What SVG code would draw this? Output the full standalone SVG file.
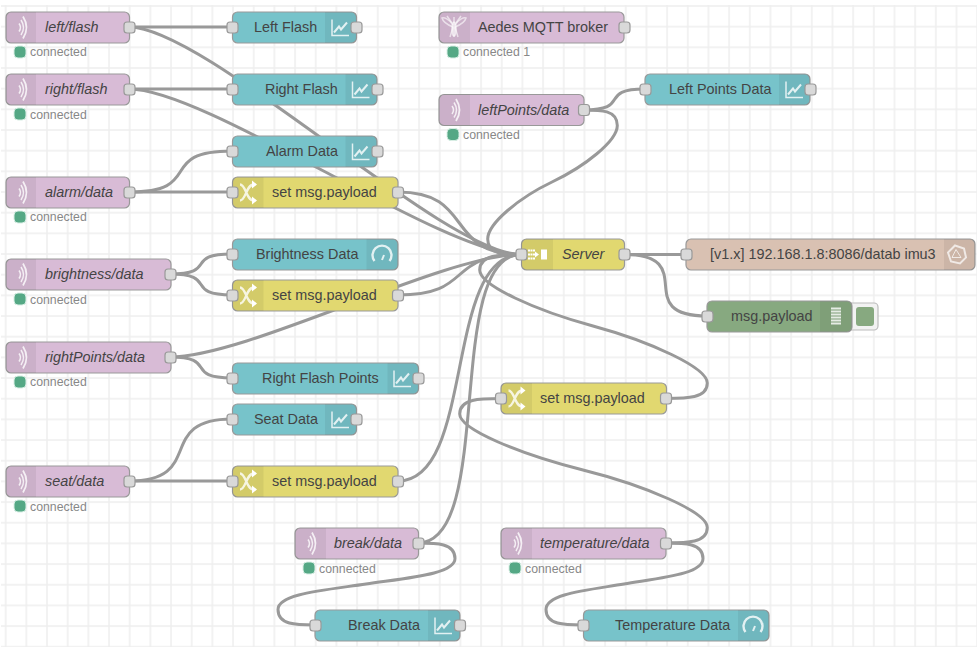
<svg xmlns="http://www.w3.org/2000/svg" xmlns:xlink="http://www.w3.org/1999/xlink" width="977" height="647" viewBox="0 0 977 647">
<style>
.n{stroke:#999;stroke-width:1.2}
.mq{fill:#d8bbd6}.ch{fill:#77c3ca}.ye{fill:#e1d870}.db{fill:#87a980}.fx{fill:#d9c1b2}
.band{fill:#000;fill-opacity:.06}
.p{fill:#d9d9d9;stroke:#999;stroke-width:1.2}
text{font-family:"Liberation Sans",Arial,sans-serif}
.l{font-size:14.4px;fill:#444}
.i{font-style:italic}
.s{font-size:12.3px;fill:#888}
.d{fill:#55a885;stroke:#d8eee4;stroke-width:1}
.w{fill:none;stroke:#999;stroke-width:3}
.ic{fill:none;stroke:#fff;stroke-opacity:.8;stroke-width:1.5}
</style>
<defs>
<pattern id="g" width="20.67" height="20.67" patternUnits="userSpaceOnUse" patternTransform="translate(4.7 5)">
<path d="M20.67 1H0M1 0V20.67" fill="none" stroke="#eee" stroke-width="1.5"/>
</pattern>
<g id="wave" class="ic"><path d="M-2 -4Q1 0 -2 4"/><path d="M0 -7.5Q5 0 0 7.5"/><path d="M2 -11Q9 0 2 11" stroke-width="1.8"/></g>
<g id="chart" class="ic"><path d="M-8 -8V8H9"/><path d="M-6 5L-1 -1L1 2L7 -5" stroke-width="2"/></g>
<g id="shuf" class="ic"><path d="M-8 -8C-2 -8 -2 8 6 8M-8 8C-2 8 -2 -8 6 -8" stroke-width="2.4"/><path d="M4 -12L9 -8L4 -4Z M4 4L9 8L4 12Z" fill="#fff" stroke="none"/></g>
<g id="gauge" class="ic"><path d="M-7.5 6A9.500 9.500 0 1 1 7.500 6" stroke-width="2.4"/><path d="M0 5L2 0" stroke-width="2"/></g>
<g id="list" class="ic"><path d="M-5 -8H5M-5 -5H5M-5 -2H5M-5 1H5M-5 4H5M-5 7H5" stroke-width="1.8"/></g>
<g id="mosq" class="ic" stroke-width="1" style="stroke-opacity:.6"><path d="M0 -9V11M-4 11L-1 1M4 11L1 1"/><path d="M-1 -1C-5 -7 -10 -9 -12 -8C-11 -4 -6 -1 -1 1M1 -1C5 -7 10 -9 12 -8C11 -4 6 -1 1 1"/><path d="M-2 -3L-7 -10M2 -3L7 -10"/><ellipse cx="0" cy="3" rx="2" ry="7" fill="#fff" fill-opacity=".4"/></g>
<g id="fluxi" class="ic" style="stroke-opacity:.7"><path d="M-2 -9L7 -6L9 3L3 9L-6 7L-9 -2Z" stroke-width="2"/><path d="M-1 -5L4 3L-5 3Z" stroke-width="1"/></g>
<g id="srv"><path d="M-9 -4h2M-6.500 -4h2M-4 -4h2M-9 0h2M-6.500 0h2M-4 0h2M-9 4h2M-6.500 4h2M-4 4h2" stroke="#fff" stroke-width="2.200" fill="none"/><path d="M-2 -3L2 0L-2 3Z" fill="#fff"/><rect x="4" y="-5" width="6" height="10" fill="#fff"/></g>
</defs>
<rect width="977" height="647" fill="#fff"/>
<rect x="1" y="5" width="976" height="642" fill="url(#g)"/>
<g id="connectors">
<path class="w" d="M129 27H232"/>
<path class="w" d="M129 27C206.500 27 443.500 254.500 521 254.500"/>
<path class="w" d="M129 89H232"/>
<path class="w" d="M129 89C206.500 89 443.500 254.500 521 254.500"/>
<path class="w" d="M129 192C206.500 192 154.500 151 232 151"/>
<path class="w" d="M129 192H232"/>
<path class="w" d="M398 192C475.500 192 443.500 254.500 521 254.500"/>
<path class="w" d="M170 274C219 274 183 254 232 254"/>
<path class="w" d="M170 274C219 274 183 295 232 295"/>
<path class="w" d="M398 295C475.500 295 443.500 254.500 521 254.500"/>
<path class="w" d="M170 357C219 357 183 378 232 378"/>
<path class="w" d="M170 357C247.500 357 443.500 254.500 521 254.500"/>
<path class="w" d="M129 481C206.500 481 154.500 419 232 419"/>
<path class="w" d="M129 481H232"/>
<path class="w" d="M398 481C475.500 481 443.500 254.500 521 254.500"/>
<path class="w" d="M418 543C495.500 543 443.500 254.500 521 254.500"/>
<path class="w" d="M418 543C436.500 543 455 543 455 558.500C455 574 410 577.500 366 584C322 590.500 278 594 278 609.500C278 625 296 625 315 625"/>
<path class="w" d="M666 543C684.500 543 703 543 703 558.500C703 574 663 577.500 624 584C585 590.500 546 594 546 609.500C546 625 564.500 625 583 625"/>
<path class="w" d="M666 543C686.700 543 707.300 543 707.300 527.500C707.300 512 645 485.500 583 470C521 454.500 459.700 429.500 459.700 414C459.700 398.500 480 398.500 501 398.500"/>
<path class="w" d="M666 398.500C686.700 398.500 707.300 398.500 707.300 383C707.300 367.500 650 341.500 593 326C536 310.500 479.700 285.500 479.700 270C479.700 254.500 500 254.500 521 254.500"/>
<path class="w" d="M584 110C600.600 110 617.300 110 617.300 125.500C617.300 141 584.600 166.500 552 182C519.400 197.500 487.700 223.500 487.700 239C487.700 254.500 504.300 254.500 521 254.500"/>
<path class="w" d="M584 110C632.400 110 596.600 89 645 89"/>
<path class="w" d="M624 254.500H686"/>
<path class="w" d="M624 254.500C701.500 254.500 629.500 316 707 316"/>
</g>
<g id="left-flash"><rect class="n mq" x="6" y="12" width="123.500" height="31" rx="5"/><path class="band" d="M11 12H36V43H11A5 5 0 0 1 6 38V17A5 5 0 0 1 11 12Z"/><use xlink:href="#wave" x="21" y="27.500"/><text class="l i" x="45" y="32">left/flash</text><rect class="p" x="124" y="22" width="11" height="11" rx="3"/><rect class="d" x="14" y="46" width="12" height="12" rx="4"/><text class="s" x="30" y="56">connected</text></g>
<g id="right-flash"><rect class="n mq" x="6" y="74" width="123.500" height="31" rx="5"/><path class="band" d="M11 74H36V105H11A5 5 0 0 1 6 100V79A5 5 0 0 1 11 74Z"/><use xlink:href="#wave" x="21" y="89.500"/><text class="l i" x="45" y="94">right/flash</text><rect class="p" x="124" y="84" width="11" height="11" rx="3"/><rect class="d" x="14" y="108" width="12" height="12" rx="4"/><text class="s" x="30" y="118.500">connected</text></g>
<g id="alarm-data"><rect class="n mq" x="6" y="177" width="123.500" height="31" rx="5"/><path class="band" d="M11 177H36V208H11A5 5 0 0 1 6 203V182A5 5 0 0 1 11 177Z"/><use xlink:href="#wave" x="21" y="192.500"/><text class="l i" x="45" y="197">alarm/data</text><rect class="p" x="124" y="187" width="11" height="11" rx="3"/><rect class="d" x="14" y="211" width="12" height="12" rx="4"/><text class="s" x="30" y="221">connected</text></g>
<g id="brightness-data"><rect class="n mq" x="6" y="259" width="165" height="31" rx="5"/><path class="band" d="M11 259H36V290H11A5 5 0 0 1 6 285V264A5 5 0 0 1 11 259Z"/><use xlink:href="#wave" x="21" y="274.500"/><text class="l i" x="45" y="279">brightness/data</text><rect class="p" x="165" y="269" width="11" height="11" rx="3"/><rect class="d" x="14" y="293" width="12" height="12" rx="4"/><text class="s" x="30" y="303.500">connected</text></g>
<g id="rightpoints-data"><rect class="n mq" x="6" y="342" width="165" height="31" rx="5"/><path class="band" d="M11 342H36V373H11A5 5 0 0 1 6 368V347A5 5 0 0 1 11 342Z"/><use xlink:href="#wave" x="21" y="357.500"/><text class="l i" x="45" y="362">rightPoints/data</text><rect class="p" x="165" y="352" width="11" height="11" rx="3"/><rect class="d" x="14" y="376" width="12" height="12" rx="4"/><text class="s" x="30" y="386">connected</text></g>
<g id="seat-data"><rect class="n mq" x="6" y="466" width="123.500" height="31" rx="5"/><path class="band" d="M11 466H36V497H11A5 5 0 0 1 6 492V471A5 5 0 0 1 11 466Z"/><use xlink:href="#wave" x="21" y="481.500"/><text class="l i" x="45" y="486">seat/data</text><rect class="p" x="124" y="476" width="11" height="11" rx="3"/><rect class="d" x="14" y="500" width="12" height="12" rx="4"/><text class="s" x="30" y="510.500">connected</text></g>
<g id="left-flash-chart"><rect class="n ch" x="232.500" y="12" width="124" height="31" rx="5"/><path class="band" d="M325 12H351.500A5 5 0 0 1 356.500 17V38A5 5 0 0 1 351.500 43H325Z"/><use xlink:href="#chart" x="340" y="27.500"/><text class="l" x="254" y="32">Left Flash</text><rect class="p" x="227" y="22" width="11" height="11" rx="3"/><rect class="p" x="351" y="22" width="11" height="11" rx="3"/></g>
<g id="right-flash-chart"><rect class="n ch" x="232.500" y="74" width="144.500" height="31" rx="5"/><path class="band" d="M345.500 74H372A5 5 0 0 1 377 79V100A5 5 0 0 1 372 105H345.500Z"/><use xlink:href="#chart" x="360.500" y="89.500"/><text class="l" x="265" y="94">Right Flash</text><rect class="p" x="227" y="84" width="11" height="11" rx="3"/><rect class="p" x="372" y="84" width="11" height="11" rx="3"/></g>
<g id="alarm-data-chart"><rect class="n ch" x="232.500" y="136" width="144.500" height="31" rx="5"/><path class="band" d="M345.500 136H372A5 5 0 0 1 377 141V162A5 5 0 0 1 372 167H345.500Z"/><use xlink:href="#chart" x="360.500" y="151.500"/><text class="l" x="266" y="156">Alarm Data</text><rect class="p" x="227" y="146" width="11" height="11" rx="3"/><rect class="p" x="372" y="146" width="11" height="11" rx="3"/></g>
<g id="set-payload-1"><rect class="n ye" x="232.500" y="177" width="165.500" height="31" rx="5"/><path class="band" d="M237.500 177H263.500V208H237.500A5 5 0 0 1 232.500 203V182A5 5 0 0 1 237.500 177Z"/><use xlink:href="#shuf" x="248" y="192.500"/><text class="l" x="272" y="197">set msg.payload</text><rect class="p" x="227" y="187" width="11" height="11" rx="3"/><rect class="p" x="392.500" y="187" width="11" height="11" rx="3"/></g>
<g id="brightness-gauge"><rect class="n ch" x="232.500" y="239" width="165.500" height="31" rx="5"/><path class="band" d="M366.500 239H393A5 5 0 0 1 398 244V265A5 5 0 0 1 393 270H366.500Z"/><use xlink:href="#gauge" x="382" y="255"/><text class="l" x="256" y="259">Brightness Data</text><rect class="p" x="227" y="249" width="11" height="11" rx="3"/></g>
<g id="set-payload-2"><rect class="n ye" x="232.500" y="280" width="165.500" height="31" rx="5"/><path class="band" d="M237.500 280H263.500V311H237.500A5 5 0 0 1 232.500 306V285A5 5 0 0 1 237.500 280Z"/><use xlink:href="#shuf" x="248" y="295.500"/><text class="l" x="272" y="300">set msg.payload</text><rect class="p" x="227" y="290" width="11" height="11" rx="3"/><rect class="p" x="392.500" y="290" width="11" height="11" rx="3"/></g>
<g id="right-flash-points"><rect class="n ch" x="232.500" y="363" width="186" height="31" rx="5"/><path class="band" d="M387.500 363H413.500A5 5 0 0 1 418.500 368V389A5 5 0 0 1 413.500 394H387.500Z"/><use xlink:href="#chart" x="402" y="378.500"/><text class="l" x="262" y="383">Right Flash Points</text><rect class="p" x="227" y="373" width="11" height="11" rx="3"/><rect class="p" x="413" y="373" width="11" height="11" rx="3"/></g>
<g id="seat-data-chart"><rect class="n ch" x="232.500" y="404" width="124" height="31" rx="5"/><path class="band" d="M325 404H351.500A5 5 0 0 1 356.500 409V430A5 5 0 0 1 351.500 435H325Z"/><use xlink:href="#chart" x="340" y="419.500"/><text class="l" x="254" y="424">Seat Data</text><rect class="p" x="227" y="414" width="11" height="11" rx="3"/><rect class="p" x="351" y="414" width="11" height="11" rx="3"/></g>
<g id="set-payload-3"><rect class="n ye" x="232.500" y="466" width="165.500" height="31" rx="5"/><path class="band" d="M237.500 466H263.500V497H237.500A5 5 0 0 1 232.500 492V471A5 5 0 0 1 237.500 466Z"/><use xlink:href="#shuf" x="248" y="481.500"/><text class="l" x="272" y="486">set msg.payload</text><rect class="p" x="227" y="476" width="11" height="11" rx="3"/><rect class="p" x="392.500" y="476" width="11" height="11" rx="3"/></g>
<g id="aedes-broker"><rect class="n mq" x="439" y="12" width="185" height="31" rx="5"/><path class="band" d="M444 12H470V43H444A5 5 0 0 1 439 38V17A5 5 0 0 1 444 12Z"/><use xlink:href="#mosq" x="454" y="26"/><text class="l" x="478" y="32">Aedes MQTT broker</text><rect class="p" x="619" y="22" width="11" height="11" rx="3"/><rect class="d" x="447" y="46" width="12" height="12" rx="4"/><text class="s" x="463" y="56">connected 1</text></g>
<g id="leftpoints-data"><rect class="n mq" x="439" y="94.500" width="145" height="31" rx="5"/><path class="band" d="M444 94.500H470V125.500H444A5 5 0 0 1 439 120.500V99.500A5 5 0 0 1 444 94.500Z"/><use xlink:href="#wave" x="454" y="110"/><text class="l i" x="478" y="114.500">leftPoints/data</text><rect class="p" x="578.500" y="104.500" width="11" height="11" rx="3"/><rect class="d" x="447" y="128.500" width="12" height="12" rx="4"/><text class="s" x="463" y="139">connected</text></g>
<g id="left-points-chart"><rect class="n ch" x="645" y="74" width="165" height="31" rx="5"/><path class="band" d="M779 74H805A5 5 0 0 1 810 79V100A5 5 0 0 1 805 105H779Z"/><use xlink:href="#chart" x="794" y="89.500"/><text class="l" x="669" y="94">Left Points Data</text><rect class="p" x="640" y="84" width="11" height="11" rx="3"/><rect class="p" x="805" y="84" width="11" height="11" rx="3"/></g>
<g id="server"><rect class="n ye" x="521.500" y="239" width="103" height="31" rx="5"/><path class="band" d="M526.500 239H553V270H526.500A5 5 0 0 1 521.500 265V244A5 5 0 0 1 526.500 239Z"/><use xlink:href="#srv" x="537" y="254.500"/><text class="l i" x="562" y="259">Server</text><rect class="p" x="516" y="249" width="11" height="11" rx="3"/><rect class="p" x="619" y="249" width="11" height="11" rx="3"/></g>
<g id="influx"><rect class="n fx" x="686" y="239" width="289" height="31" rx="5"/><path class="band" d="M944 239H970A5 5 0 0 1 975 244V265A5 5 0 0 1 970 270H944Z"/><use xlink:href="#fluxi" x="957" y="254.500"/><text class="l" x="710" y="259">[v1.x] 192.168.1.8:8086/datab imu3</text><rect class="p" x="681" y="249" width="11" height="11" rx="3"/></g>
<g id="debug"><rect x="846" y="303" width="32" height="27" rx="4" fill="#f2f2f2" stroke="#bbb" stroke-width="1.2"/><rect class="n db" x="707" y="301" width="145" height="31" rx="5"/><path class="band" d="M820 301H847A5 5 0 0 1 852 306V327A5 5 0 0 1 847 332H820Z"/><use xlink:href="#list" x="836" y="316.500"/><rect x="856" y="307" width="18" height="19" rx="3" fill="#87a980"/><text class="l" x="731" y="321">msg.payload</text><rect class="p" x="702" y="311" width="11" height="11" rx="3"/></g>
<g id="set-payload-4"><rect class="n ye" x="501" y="383" width="165.500" height="31" rx="5"/><path class="band" d="M506 383H532V414H506A5 5 0 0 1 501 409V388A5 5 0 0 1 506 383Z"/><use xlink:href="#shuf" x="516.500" y="398.500"/><text class="l" x="540" y="403">set msg.payload</text><rect class="p" x="495.500" y="393" width="11" height="11" rx="3"/><rect class="p" x="660.500" y="393" width="11" height="11" rx="3"/></g>
<g id="break-data"><rect class="n mq" x="295" y="528" width="123.500" height="31" rx="5"/><path class="band" d="M300 528H326V559H300A5 5 0 0 1 295 554V533A5 5 0 0 1 300 528Z"/><use xlink:href="#wave" x="310" y="543.500"/><text class="l i" x="334" y="548">break/data</text><rect class="p" x="413" y="538" width="11" height="11" rx="3"/><rect class="d" x="303" y="562" width="12" height="12" rx="4"/><text class="s" x="319" y="572.500">connected</text></g>
<g id="temperature-data"><rect class="n mq" x="501" y="528" width="165" height="31" rx="5"/><path class="band" d="M506 528H532V559H506A5 5 0 0 1 501 554V533A5 5 0 0 1 506 528Z"/><use xlink:href="#wave" x="516" y="543.500"/><text class="l i" x="540" y="548">temperature/data</text><rect class="p" x="660.500" y="538" width="11" height="11" rx="3"/><rect class="d" x="509" y="562" width="12" height="12" rx="4"/><text class="s" x="525" y="572.500">connected</text></g>
<g id="break-chart"><rect class="n ch" x="315" y="610" width="145" height="31" rx="5"/><path class="band" d="M428 610H455A5 5 0 0 1 460 615V636A5 5 0 0 1 455 641H428Z"/><use xlink:href="#chart" x="443" y="625.500"/><text class="l" x="348" y="630">Break Data</text><rect class="p" x="310" y="620" width="11" height="11" rx="3"/><rect class="p" x="454.500" y="620" width="11" height="11" rx="3"/></g>
<g id="temperature-gauge"><rect class="n ch" x="583.500" y="610" width="185.500" height="31" rx="5"/><path class="band" d="M738 610H764A5 5 0 0 1 769 615V636A5 5 0 0 1 764 641H738Z"/><use xlink:href="#gauge" x="753" y="626"/><text class="l" x="615" y="630">Temperature Data</text><rect class="p" x="578" y="620" width="11" height="11" rx="3"/></g>
</svg>
